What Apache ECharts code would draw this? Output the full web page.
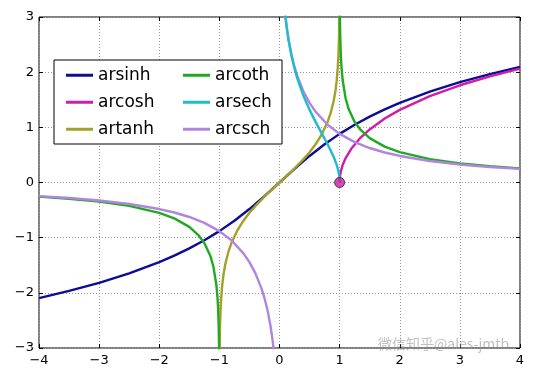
<!DOCTYPE html>
<html>
<head>
<meta charset="utf-8">
<script src="https://cdn.jsdelivr.net/npm/echarts@6/dist/echarts.min.js"></script>
<style>html,body{margin:0;padding:0;background:#fff;}#c{width:560px;height:373px;}</style>
</head>
<body>
<div id="c"></div>
<script>
// ---- data ----
var xTicks = [-4, -3, -2, -1, 0, 1, 2, 3, 4];
var yTicks = [-3, -2, -1, 0, 1, 2, 3];

var arsinhX = [-4, -3.5, -3, -2.5, -2, -1.75, -1.5, -1.25, -1, -0.75, -0.5, -0.25, 0, 0.25, 0.5, 0.75, 1, 1.25, 1.5, 1.75, 2, 2.5, 3, 3.5, 4];
var arsinhY = [-2.0947, -1.9657, -1.8184, -1.6472, -1.4436, -1.3258, -1.1948, -1.0476, -0.8814, -0.6931, -0.4812, -0.2475, 0, 0.2475, 0.4812, 0.6931, 0.8814, 1.0476, 1.1948, 1.3258, 1.4436, 1.6472, 1.8184, 1.9657, 2.0947];

var arcoshX = [1, 1.002, 1.01, 1.02, 1.05, 1.1, 1.2, 1.35, 1.5, 1.75, 2, 2.5, 3, 3.5, 4];
var arcoshY = [0, 0.0632, 0.1413, 0.1997, 0.3149, 0.4436, 0.6224, 0.8140, 0.9624, 1.1588, 1.3170, 1.5668, 1.7627, 1.9248, 2.0634];

var artanhX = [-0.9975, -0.995, -0.99, -0.98, -0.97, -0.95, -0.93, -0.9, -0.85, -0.8, -0.7, -0.6, -0.5, -0.4, -0.2, 0, 0.2, 0.4, 0.5, 0.6, 0.7, 0.8, 0.85, 0.9, 0.93, 0.95, 0.97, 0.98, 0.99, 0.995, 0.9975];
var artanhY = [-3.3417, -2.9945, -2.6467, -2.2976, -2.0923, -1.8318, -1.6584, -1.4722, -1.2562, -1.0986, -0.8673, -0.6931, -0.5493, -0.4236, -0.2027, 0, 0.2027, 0.4236, 0.5493, 0.6931, 0.8673, 1.0986, 1.2562, 1.4722, 1.6584, 1.8318, 2.0923, 2.2976, 2.6467, 2.9945, 3.3417];

var arcothPosX = [1.0025, 1.005, 1.01, 1.02, 1.03, 1.05, 1.1, 1.15, 1.25, 1.35, 1.5, 1.75, 2, 2.5, 3, 3.5, 4];
var arcothPosY = [3.3429, 2.9969, 2.6492, 2.3076, 2.1072, 1.8568, 1.5223, 1.3312, 1.0986, 0.9521, 0.8047, 0.6496, 0.5493, 0.4236, 0.3466, 0.2939, 0.2554];
var arcothNegX = [-4, -3.5, -3, -2.5, -2, -1.75, -1.5, -1.35, -1.25, -1.15, -1.1, -1.05, -1.03, -1.02, -1.01, -1.005, -1.0025];
var arcothNegY = [-0.2554, -0.2939, -0.3466, -0.4236, -0.5493, -0.6496, -0.8047, -0.9521, -1.0986, -1.3312, -1.5223, -1.8568, -2.1072, -2.3076, -2.6492, -2.9969, -3.3429];

var arsechX = [0.09, 0.1, 0.12, 0.15, 0.2, 0.25, 0.3, 0.4, 0.5, 0.6, 0.7, 0.8, 0.9, 0.95, 0.97, 0.99, 0.999, 1];
var arsechY = [3.0991, 2.9932, 2.8098, 2.5846, 2.2924, 2.0634, 1.8738, 1.5668, 1.3170, 1.0986, 0.8955, 0.6931, 0.4671, 0.3230, 0.2481, 0.1420, 0.0447, 0];

var arcschPosX = [0.09, 0.1, 0.12, 0.15, 0.2, 0.25, 0.3, 0.4, 0.5, 0.6, 0.8, 1, 1.25, 1.5, 1.75, 2, 2.5, 3, 3.5, 4];
var arcschPosY = [3.1033, 2.9982, 2.8170, 2.5959, 2.3124, 2.0947, 1.9189, 1.6472, 1.4436, 1.2838, 1.0476, 0.8814, 0.7327, 0.6251, 0.5441, 0.4812, 0.3900, 0.3275, 0.2819, 0.2475];
var arcschNegX = [-4, -3.5, -3, -2.5, -2, -1.75, -1.5, -1.25, -1, -0.8, -0.6, -0.5, -0.4, -0.3, -0.25, -0.2, -0.15, -0.12, -0.1, -0.09];
var arcschNegY = [-0.2475, -0.2819, -0.3275, -0.3900, -0.4812, -0.5441, -0.6251, -0.7327, -0.8814, -1.0476, -1.2838, -1.4436, -1.6472, -1.9189, -2.0947, -2.3124, -2.5959, -2.8170, -2.9982, -3.1033];

var pointX = [1];
var pointY = [0];

var names = ['arsinh', 'arcosh', 'artanh', 'arcoth', 'arsech', 'arcsch'];
var colors = {
  arsinh: '#0c0c98', arcosh: '#d01ca6', artanh: '#a5a026',
  arcoth: '#20aa20', arsech: '#20bcca', arcsch: '#b085de'
};

function zip(xs, ys) { return xs.map(function (x, i) { return [x, ys[i]]; }); }
function fmt(v) { return v < 0 ? '\u2212' + (-v) : '' + v; }

function lineSeries(name, xs, ys) {
  return {
    name: name, type: 'line', data: zip(xs, ys),
    showSymbol: false, symbol: 'none', clip: true,
    smooth: false, sampling: null,
    color: colors[name],
    lineStyle: { width: 2.4, color: colors[name], join: 'round', cap: 'butt' },
    emphasis: { disabled: true },
    animation: false
  };
}

var FONT = 'DejaVu Sans';
var chart = echarts.init(document.getElementById('c'), null, { renderer: 'canvas' });

var legendCommon = {
  orient: 'vertical', padding: 0, itemGap: 0.5,
  itemWidth: 27, itemHeight: 3, itemTextGap: 11, icon: 'rect',
  textStyle: { fontFamily: FONT, fontSize: 17, color: '#000', lineHeight: 26.5 },
  selectedMode: false, z: 5
};

chart.setOption({
  animation: false,
  backgroundColor: '#fff',
  grid: { left: 39, right: 40, top: 17, bottom: 25, show: true, borderColor: '#000', borderWidth: 1, backgroundColor: 'transparent' },
  xAxis: [{
    type: 'value', min: -4, max: 4, interval: 1,
    axisLine: { show: false, onZero: false },
    axisTick: { show: true, inside: true, length: 4, lineStyle: { color: '#000' } },
    axisLabel: { formatter: fmt, fontFamily: FONT, fontSize: 13, color: '#000', margin: 6 },
    splitLine: { show: true, lineStyle: { color: '#999', type: [1, 2], width: 1 } }
  }, {
    type: 'value', min: -4, max: 4, interval: 1, position: 'top',
    axisLine: { show: false, onZero: false },
    axisTick: { show: true, inside: true, length: 4, lineStyle: { color: '#000' } },
    axisLabel: { show: false }, splitLine: { show: false }
  }],
  yAxis: [{
    type: 'value', min: -3, max: 3, interval: 1,
    axisLine: { show: false, onZero: false },
    axisTick: { show: true, inside: true, length: 4, lineStyle: { color: '#000' } },
    axisLabel: { formatter: fmt, fontFamily: FONT, fontSize: 13, color: '#000', margin: 5 },
    splitLine: { show: true, lineStyle: { color: '#999', type: [1, 2], width: 1 } }
  }, {
    type: 'value', min: -3, max: 3, interval: 1, position: 'right',
    axisLine: { show: false, onZero: false },
    axisTick: { show: true, inside: true, length: 4, lineStyle: { color: '#000' } },
    axisLabel: { show: false }, splitLine: { show: false }
  }],
  legend: [
    Object.assign({}, legendCommon, { left: 66, top: 62, data: names.slice(0, 3) }),
    Object.assign({}, legendCommon, { left: 183, top: 62, data: names.slice(3, 6) })
  ],
  graphic: [
    { type: 'rect', z: 4, shape: { x: 54, y: 60, width: 228, height: 84 },
      style: { fill: '#fff', stroke: '#000', lineWidth: 1 } },
    { type: 'text', z: 6, left: 378, top: 337,
      style: { text: '微信知乎@ales-jmtb', fill: 'rgba(140,140,140,0.55)', font: '14px "Noto Sans CJK SC"' } }
  ],
  series: [
    lineSeries('arsinh', arsinhX, arsinhY),
    lineSeries('arcosh', arcoshX, arcoshY),
    lineSeries('artanh', artanhX, artanhY),
    lineSeries('arcoth', arcothPosX, arcothPosY),
    lineSeries('arcoth', arcothNegX, arcothNegY),
    lineSeries('arcsch', arcschPosX, arcschPosY),
    lineSeries('arcsch', arcschNegX, arcschNegY),
    lineSeries('arsech', arsechX, arsechY),
    {
      name: 'point', type: 'scatter', data: zip(pointX, pointY),
      symbol: 'circle', symbolSize: 10, z: 5,
      itemStyle: { color: '#d01ca6', borderColor: '#222', borderWidth: 1 },
      emphasis: { disabled: true }, animation: false
    }
  ]
});
</script>
</body>
</html>
